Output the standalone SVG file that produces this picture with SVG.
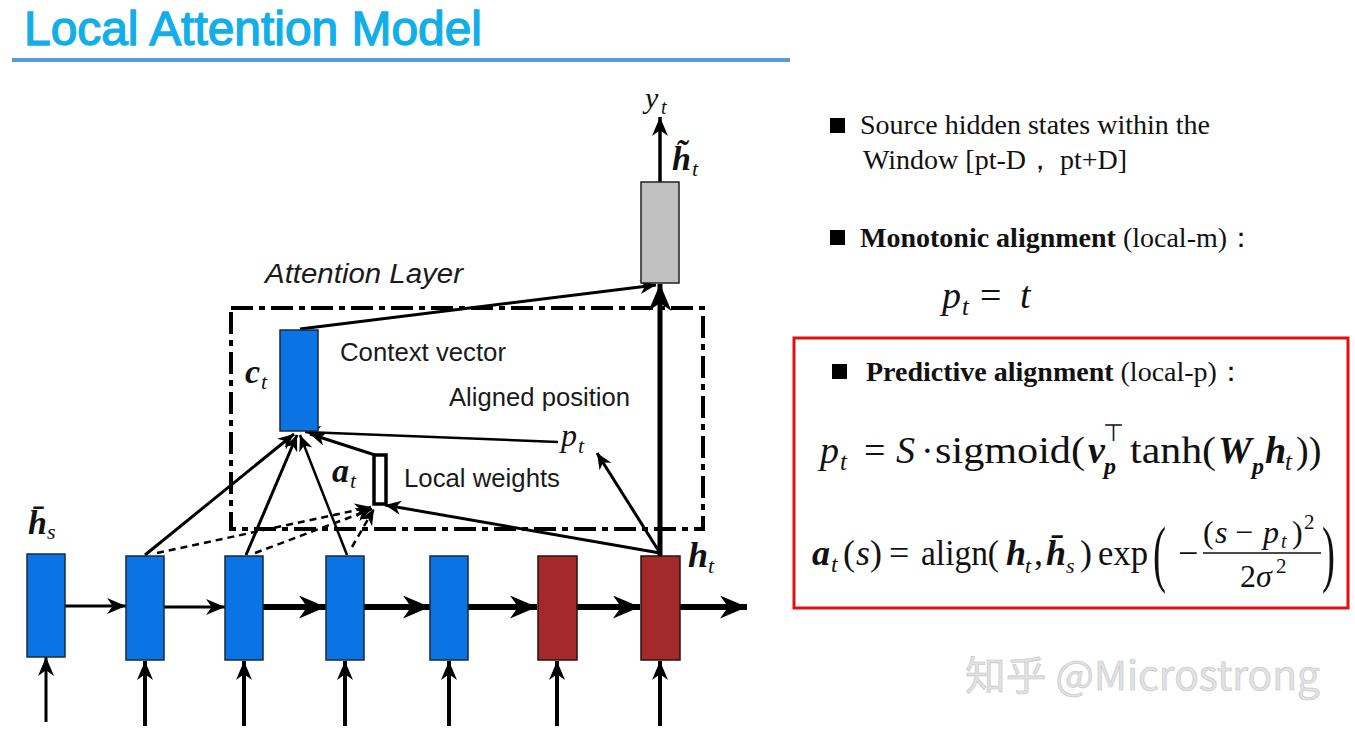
<svg xmlns="http://www.w3.org/2000/svg" width="1355" height="733" viewBox="0 0 1355 733">
<defs>
<style>
.sans{font-family:"Liberation Sans",Arial,sans-serif;fill:#1a1a1a}
.serif{font-family:"Liberation Serif","Times New Roman",serif;fill:#111}
.mi{font-family:"Liberation Serif","Times New Roman",serif;font-style:italic;fill:#111}
.mb{font-family:"Liberation Serif","Times New Roman",serif;font-style:italic;font-weight:bold;fill:#111}
.blue{fill:#0a74e4;stroke:#1a2a40;stroke-width:1.5}
.red{fill:#a3292b;stroke:#2a1010;stroke-width:1.5}
.ln{stroke:#000;fill:none}
.dash{stroke:#000;fill:none;stroke-width:2.5;stroke-dasharray:7 5}
</style>
<marker id="am" viewBox="0 0 10 10" refX="10" refY="5" markerWidth="16" markerHeight="14" markerUnits="userSpaceOnUse" orient="auto" preserveAspectRatio="none"><path d="M0,0 L10,5 L0,10 L3,5 z" fill="#000"/></marker>
<marker id="ai" viewBox="0 0 10 10" refX="10" refY="5" markerWidth="19" markerHeight="16" markerUnits="userSpaceOnUse" orient="auto" preserveAspectRatio="none"><path d="M0,0 L10,5 L0,10 L3,5 z" fill="#000"/></marker>
<marker id="al" viewBox="0 0 10 10" refX="10" refY="5" markerWidth="27" markerHeight="23" markerUnits="userSpaceOnUse" orient="auto" preserveAspectRatio="none"><path d="M0,0 L10,5 L0,10 L3,5 z" fill="#000"/></marker>
</defs>
<rect width="1355" height="733" fill="#fff"/>

<g id="title">
<text x="24" y="45" font-family="Liberation Sans,Arial,sans-serif" font-size="48" fill="#12aee8" stroke="#12aee8" stroke-width="1.4" textLength="458" lengthAdjust="spacingAndGlyphs">Local Attention Model</text>
<rect x="12" y="58" width="778" height="4" fill="#5b9bd5"/>
</g>

<g id="attention-layer">
<rect x="231" y="308" width="472" height="221" fill="none" stroke="#000" stroke-width="4" stroke-dasharray="22 6 6 6"/>
<text class="sans" x="265" y="283" font-size="27" font-style="italic" textLength="198" lengthAdjust="spacingAndGlyphs">Attention Layer</text>
</g>

<g id="connectors">
<line class="ln" x1="65" y1="606" x2="126" y2="606" stroke-width="3" marker-end="url(#ai)"/>
<line class="ln" x1="164" y1="607" x2="225" y2="607" stroke-width="3" marker-end="url(#ai)"/>
<line class="ln" x1="263" y1="607" x2="326" y2="607" stroke-width="6" marker-end="url(#al)"/>
<line class="ln" x1="364" y1="607" x2="430" y2="607" stroke-width="6" marker-end="url(#al)"/>
<line class="ln" x1="468" y1="607" x2="537" y2="607" stroke-width="6" marker-end="url(#al)"/>
<line class="ln" x1="577" y1="607" x2="640" y2="607" stroke-width="6" marker-end="url(#al)"/>
<line class="ln" x1="679" y1="607" x2="747" y2="607" stroke-width="6" marker-end="url(#al)"/>
<line class="ln" x1="46" y1="722" x2="46" y2="657" stroke-width="3" marker-end="url(#ai)"/>
<line class="ln" x1="145" y1="726" x2="145" y2="661" stroke-width="4" marker-end="url(#ai)"/>
<line class="ln" x1="244" y1="726" x2="244" y2="661" stroke-width="4" marker-end="url(#ai)"/>
<line class="ln" x1="345" y1="726" x2="345" y2="661" stroke-width="4" marker-end="url(#ai)"/>
<line class="ln" x1="449" y1="726" x2="449" y2="661" stroke-width="4" marker-end="url(#ai)"/>
<line class="ln" x1="557" y1="726" x2="557" y2="661" stroke-width="4" marker-end="url(#ai)"/>
<line class="ln" x1="660" y1="726" x2="660" y2="661" stroke-width="4" marker-end="url(#ai)"/>
<line class="ln" x1="660" y1="556" x2="660" y2="284" stroke-width="5" marker-end="url(#al)"/>
<line class="ln" x1="660" y1="182" x2="660" y2="117" stroke-width="3.5" marker-end="url(#ai)"/>
<line class="ln" x1="300" y1="329" x2="656" y2="285" stroke-width="3" marker-end="url(#am)"/>
<line class="ln" x1="558" y1="442" x2="305" y2="432" stroke-width="2.5" marker-end="url(#am)"/>
<line class="ln" x1="375" y1="455" x2="310" y2="434" stroke-width="3" marker-end="url(#am)"/>
<line class="ln" x1="145" y1="555" x2="294" y2="434" stroke-width="3" marker-end="url(#am)"/>
<line class="ln" x1="246" y1="555" x2="297" y2="435" stroke-width="3" marker-end="url(#am)"/>
<line class="ln" x1="347" y1="555" x2="300" y2="435" stroke-width="2.5" marker-end="url(#am)"/>
<line class="ln" x1="660" y1="553" x2="597" y2="453" stroke-width="3" marker-end="url(#am)"/>
<line class="ln" x1="660" y1="553" x2="385" y2="505" stroke-width="3" marker-end="url(#am)"/>
<line class="dash" x1="157" y1="553" x2="371" y2="507" marker-end="url(#am)"/>
<line class="dash" x1="255" y1="553" x2="372" y2="509" marker-end="url(#am)"/>
<line class="dash" x1="352" y1="547" x2="374" y2="509" marker-end="url(#am)"/>
</g>

<g id="node-h1"><rect class="blue" x="27" y="554" width="38" height="103"/></g>
<g id="node-h2"><rect class="blue" x="126" y="556" width="38" height="104"/></g>
<g id="node-h3"><rect class="blue" x="225" y="556" width="38" height="104"/></g>
<g id="node-h4"><rect class="blue" x="326" y="556" width="38" height="104"/></g>
<g id="node-h5"><rect class="blue" x="430" y="556" width="38" height="104"/></g>
<g id="node-h6"><rect class="red" x="538" y="556" width="39" height="104"/></g>
<g id="node-h7"><rect class="red" x="641" y="556" width="39" height="104"/></g>
<g id="node-htilde"><rect x="641" y="182" width="38" height="101" fill="#c0c0c0" stroke="#222" stroke-width="1.5"/></g>
<g id="node-ct"><rect class="blue" x="280" y="330" width="38" height="101"/></g>
<g id="node-at"><rect x="374" y="455" width="12" height="49" fill="#fff" stroke="#000" stroke-width="3.5"/></g>

<g id="diagram-labels">
<text class="sans" x="340" y="361" font-size="25" textLength="166" lengthAdjust="spacingAndGlyphs">Context vector</text>
<text class="sans" x="449" y="406" font-size="25" textLength="181" lengthAdjust="spacingAndGlyphs">Aligned position</text>
<text class="sans" x="404" y="487" font-size="25" textLength="156" lengthAdjust="spacingAndGlyphs">Local weights</text>
<text class="mi" x="645" y="108" font-size="30">y</text><text class="mi" x="661" y="114" font-size="20">t</text>
<text class="mb" x="672" y="170" font-size="34">h̃</text><text class="mi" x="692" y="176" font-size="22">t</text>
<text class="mb" x="245" y="383" font-size="34">c</text><text class="mi" x="261" y="389" font-size="22">t</text>
<text class="mb" x="332" y="482" font-size="34">a</text><text class="mi" x="350" y="488" font-size="22">t</text>
<text class="mi" x="561" y="446" font-size="32">p</text><text class="mi" x="578" y="453" font-size="22">t</text>
<text class="mb" x="28" y="534" font-size="34">h̄</text><text class="mi" x="47" y="539" font-size="22">s</text>
<text class="mb" x="688" y="567" font-size="36">h</text><text class="mi" x="708" y="573" font-size="22">t</text>
</g>

<g id="bullets">
<rect x="830" y="118" width="15" height="15" fill="#000"/>
<text class="serif" x="860" y="134" font-size="28">Source hidden states within the</text>
<text class="serif" x="863" y="169" font-size="28">Window [pt-D，</text>
<text class="serif" x="1060" y="169" font-size="28">pt+D]</text>
<rect x="830" y="230" width="15" height="15" fill="#000"/>
<text class="serif" x="860" y="247" font-size="28"><tspan font-weight="bold">Monotonic alignment</tspan> (local-m)：</text>
<text class="mi" x="942" y="308" font-size="38">p</text><text class="mi" x="962" y="315" font-size="25">t</text>
<text class="serif" x="980" y="308" font-size="38">=</text>
<text class="mi" x="1020" y="308" font-size="38">t</text>
</g>

<g id="predictive-box">
<rect x="794" y="338" width="554" height="270" fill="none" stroke="#e01010" stroke-width="3"/>
<rect x="832" y="364" width="15" height="15" fill="#000"/>
<text class="serif" x="866" y="381" font-size="28"><tspan font-weight="bold">Predictive alignment</tspan> (local-p)：</text>
<text class="mi" x="820" y="463" font-size="38">p</text><text class="mi" x="840" y="470" font-size="25">t</text>
<text class="serif" x="864" y="463" font-size="38">=</text>
<text class="mi" x="896" y="463" font-size="38">S</text>
<text class="serif" x="921" y="463" font-size="38">·</text>
<text class="serif" x="935" y="463" font-size="38" textLength="150" lengthAdjust="spacingAndGlyphs">sigmoid(</text>
<text class="mb" x="1088" y="463" font-size="38">v</text><text class="mb" x="1104" y="474" font-size="24">p</text><text class="serif" x="1103" y="441" font-size="24">⊤</text>
<text class="serif" x="1130" y="463" font-size="38" textLength="86" lengthAdjust="spacingAndGlyphs">tanh(</text>
<text class="mb" x="1218" y="463" font-size="38">W</text><text class="mb" x="1252" y="474" font-size="24">p</text>
<text class="mb" x="1265" y="463" font-size="38">h</text><text class="mi" x="1285" y="470" font-size="25">t</text>
<text class="serif" x="1296" y="463" font-size="38">))</text>
<text class="mb" x="812" y="565" font-size="36">a</text><text class="mi" x="831" y="572" font-size="24">t</text>
<text class="serif" x="843" y="565" font-size="36">(</text><text class="mi" x="856" y="565" font-size="36">s</text><text class="serif" x="870" y="565" font-size="36">)</text>
<text class="serif" x="889" y="565" font-size="36">=</text>
<text class="serif" x="921" y="565" font-size="36" textLength="78" lengthAdjust="spacingAndGlyphs">align(</text>
<text class="mb" x="1006" y="565" font-size="36">h</text><text class="mi" x="1025" y="573" font-size="22">t</text>
<text class="serif" x="1034" y="565" font-size="36">,</text>
<text class="mb" x="1046" y="565" font-size="36">h̄</text><text class="mi" x="1066" y="573" font-size="22">s</text>
<text class="serif" x="1080" y="565" font-size="36">)</text>
<text class="serif" x="1098" y="565" font-size="36" textLength="50" lengthAdjust="spacingAndGlyphs">exp</text>
<text class="serif" transform="translate(1153,578) scale(0.85,1.6)" font-size="46">(</text>
<text class="serif" x="1178" y="565" font-size="36">−</text>
<text class="serif" x="1203" y="543" font-size="32">(</text><text class="mi" x="1215" y="543" font-size="32">s</text>
<text class="serif" x="1235" y="543" font-size="32">−</text>
<text class="mi" x="1263" y="543" font-size="32">p</text><text class="mi" x="1281" y="548" font-size="20">t</text>
<text class="serif" x="1292" y="543" font-size="32">)</text><text class="serif" x="1304" y="529" font-size="21">2</text>
<line x1="1203" y1="553" x2="1321" y2="553" stroke="#111" stroke-width="1.6"/>
<text class="serif" x="1240" y="587" font-size="32">2</text><text class="mi" x="1256" y="587" font-size="32">σ</text><text class="serif" x="1276" y="573" font-size="21">2</text>
<text class="serif" transform="translate(1322,578) scale(0.85,1.6)" font-size="46">)</text>
</g>

<g id="watermark">
<text x="965" y="690" font-family="Noto Sans CJK SC,Noto Sans,sans-serif" font-size="40" fill="#e2e2e2" stroke="#c4c4c4" stroke-width="0.6" textLength="355" lengthAdjust="spacingAndGlyphs">知乎 @Microstrong</text>
</g>
</svg>
